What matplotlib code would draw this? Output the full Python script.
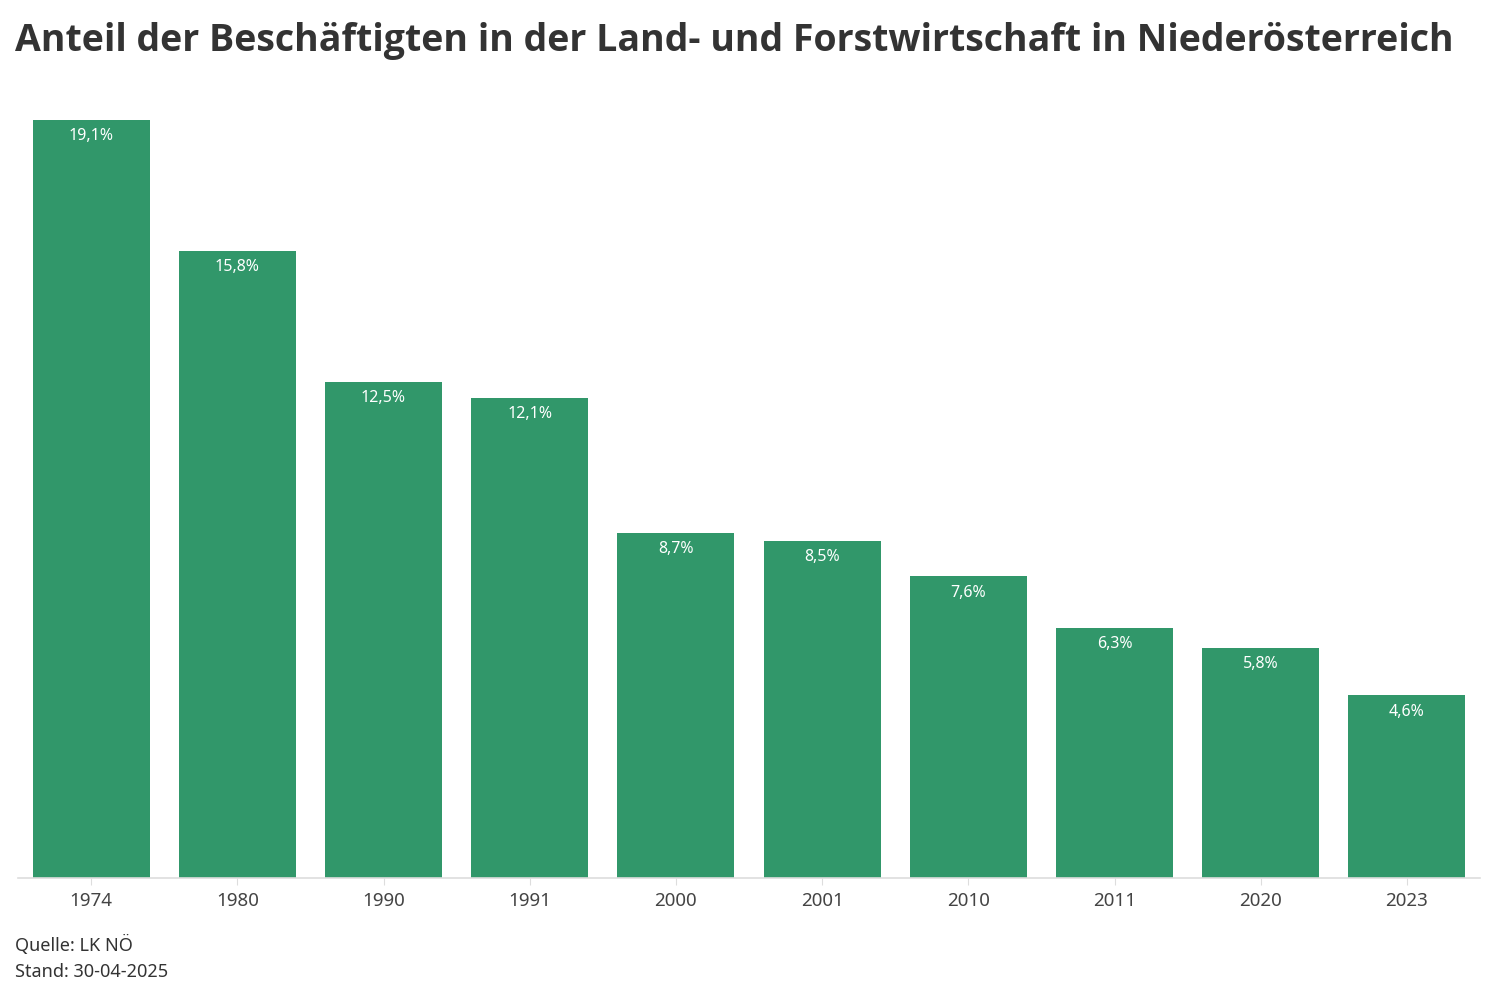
import matplotlib
matplotlib.use("Agg")
import matplotlib.pyplot as plt

years = ["1974", "1980", "1990", "1991", "2000", "2001", "2010", "2011", "2020", "2023"]
shares = [19.1, 15.8, 12.5, 12.1, 8.7, 8.5, 7.6, 6.3, 5.8, 4.6]
labels = ["19,1%", "15,8%", "12,5%", "12,1%", "8,7%", "8,5%", "7,6%", "6,3%", "5,8%", "4,6%"]

title = "Anteil der Beschäftigten in der Land- und Forstwirtschaft in Niederösterreich"
source = "Quelle: LK NÖ\nStand: 30-04-2025"

FONT = "Noto Sans"
GREEN = "#31976a"

fig = plt.figure(figsize=(15, 10), dpi=100)
ax = fig.add_axes([0.012, 0.122, 0.9747, 0.778])

x = list(range(len(years)))
ax.bar(x, shares, width=0.8, color=GREEN, zorder=2)
for xi, v, lab in zip(x, shares, labels):
    ax.annotate(lab, (xi, v), xytext=(0, -6), textcoords="offset points",
                ha="center", va="top", color="white", fontsize=11.5, family=FONT)

ax.set_xlim(-0.5, len(years) - 0.5)
ax.set_ylim(0, 19.6)
ax.set_xticks(x)
ax.set_xticklabels(years, fontsize=13.5, family=FONT, color="#444444")
ax.tick_params(axis="x", length=5, color="#dddddd", pad=5)
ax.set_yticks([])
for s in ["top", "right", "left"]:
    ax.spines[s].set_visible(False)
ax.spines["bottom"].set_color("#dddddd")
ax.spines["bottom"].set_linewidth(1.2)

fig.text(0.01, 0.959, title, fontsize=27, fontweight="bold", family="Open Sans",
         color="#333333", ha="left", va="center")
fig.text(0.01, 0.042, source, fontsize=13, family=FONT, color="#333333",
         ha="left", va="center", linespacing=1.55)

fig.savefig("out.png", dpi=100)
